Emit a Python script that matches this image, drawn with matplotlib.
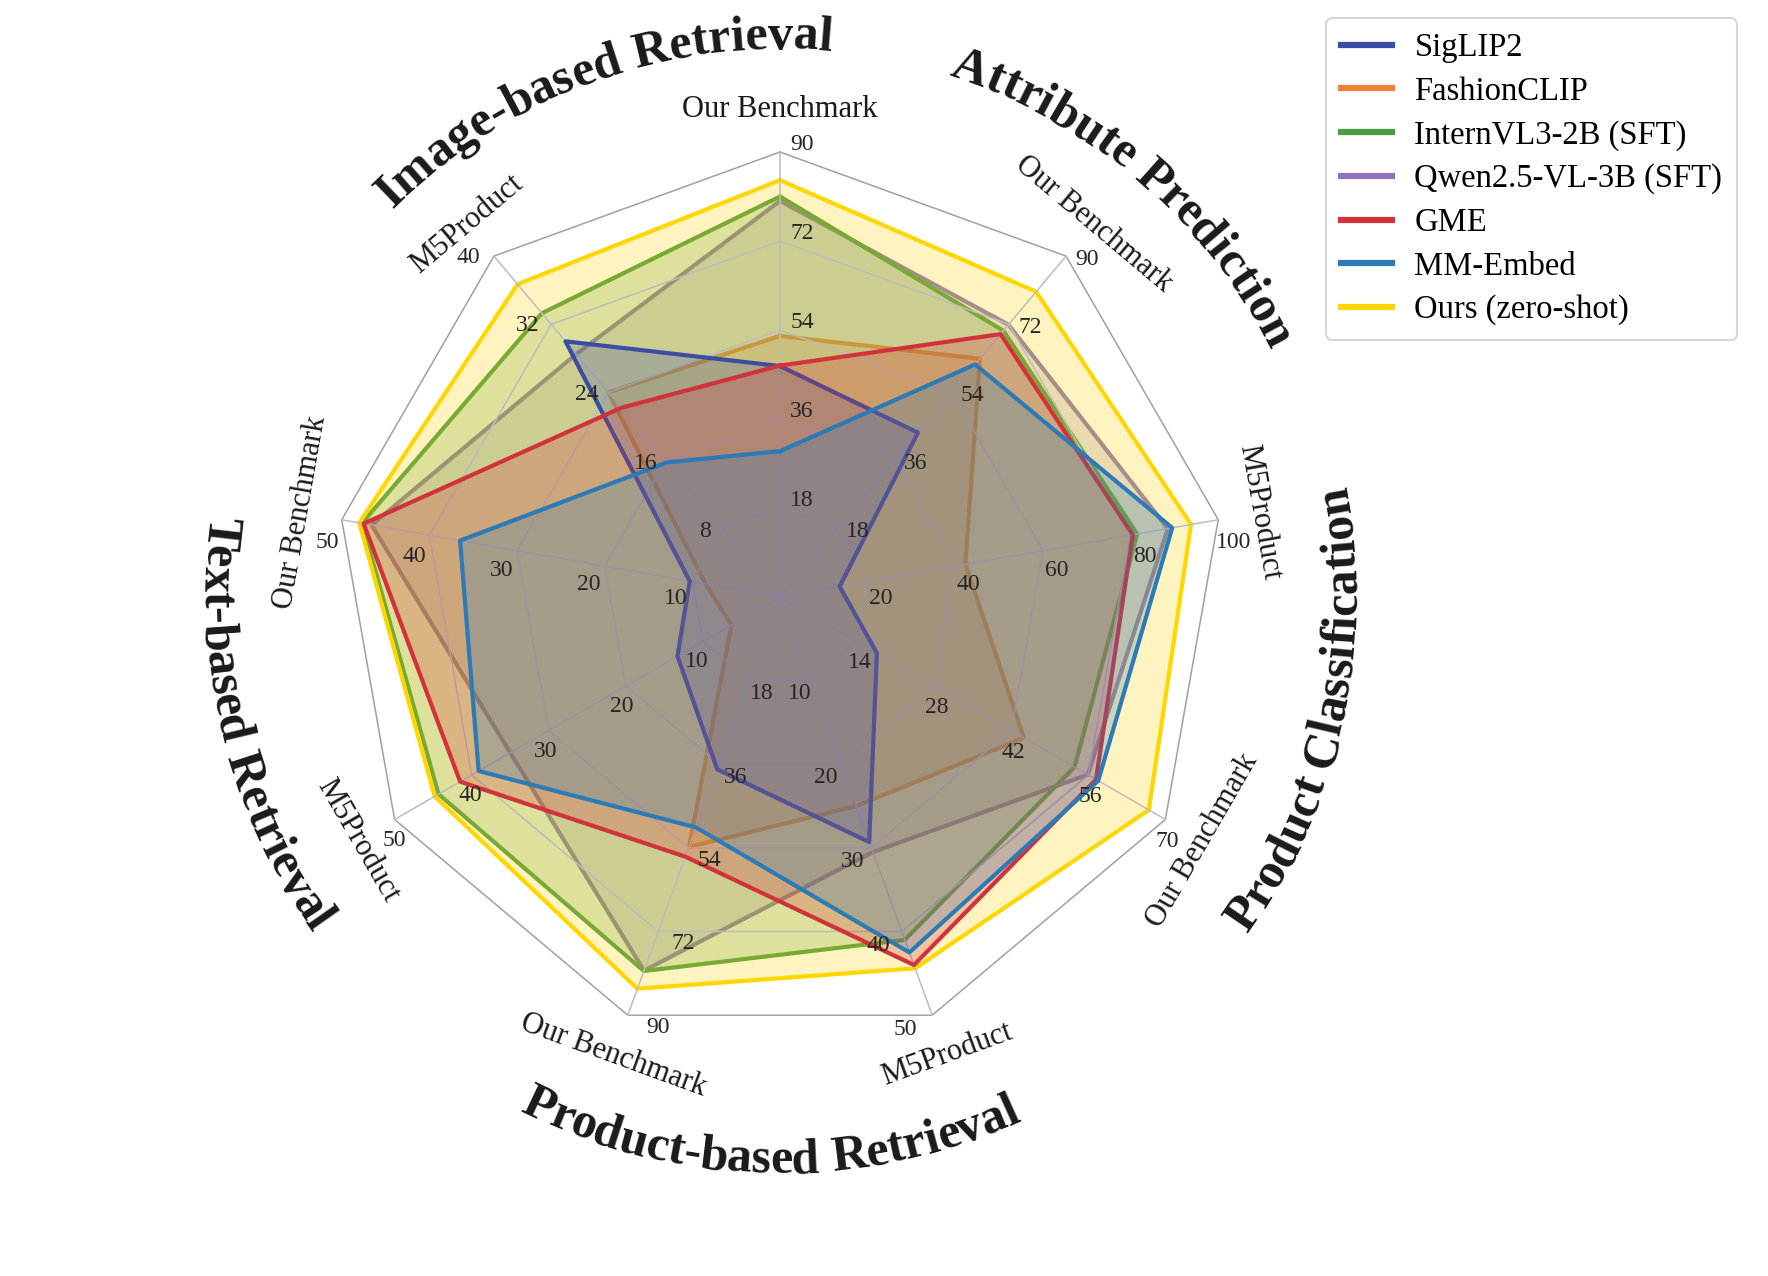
import numpy as np
import matplotlib
matplotlib.use("Agg")
import matplotlib.pyplot as plt
from matplotlib.font_manager import FontProperties

plt.rcParams['font.family'] = ['Liberation Serif', 'DejaVu Serif']

# radar axes, clockwise from the top
axis_names = ["Our Benchmark", "Our Benchmark", "M5Product", "Our Benchmark", "M5Product",
              "Our Benchmark", "M5Product", "Our Benchmark", "M5Product"]
axis_max = [90, 90, 100, 70, 50, 90, 50, 50, 40]

group_names = ["Image-based Retrieval", "Attribute Prediction", "Product Classification",
               "Product-based Retrieval", "Text-based Retrieval"]
# centre of each curved title, degrees counter-clockwise from the right
group_center = [109.8, 49.4, -12.3, -91.0, 193.8]

model_names = ["SigLIP2", "FashionCLIP", "InternVL3-2B (SFT)", "Qwen2.5-VL-3B (SFT)",
               "GME", "MM-Embed", "Ours (zero-shot)"]
siglip2     = [46.7, 43.4, 13.6, 17.6, 29.3, 37.1, 13.3, 10.3, 30.0]
fashionclip = [52.8, 62.9, 42.3, 44.3, 25.0, 53.8, 6.3, 8.5, 24.0]
internvl    = [81.0, 70.3, 81.5, 53.5, 41.0, 80.5, 44.3, 47.7, 33.3]
qwen        = [80.1, 71.9, 88.5, 55.9, 30.5, 80.4, 35.0, 46.6, 28.5]
gme         = [46.8, 69.4, 80.5, 57.4, 44.0, 55.9, 41.5, 47.5, 22.2]
mm_embed    = [29.5, 61.4, 89.5, 57.8, 42.5, 49.6, 39.1, 36.5, 15.8]
ours        = [84.3, 80.6, 93.8, 67.0, 44.4, 84.3, 44.8, 48.0, 36.7]
model_values = [siglip2, fashionclip, internvl, qwen, gme, mm_embed, ours]
colors = ['#3C4DA5', '#F08236', '#4C9B45', '#8D74B6', '#D1323B', '#2C7BB6', '#FFD700']

draw_order = [1, 3, 2, 6, 0, 4, 5]      # which polygon sits on top of which

# tick label nudges in pixels (x right, y down) at the inner and outer ring
tick_off_in = [(22, -8), (21, 3), (13, 17), (3, 21), (-11, 13), (12, 13), (-6, 20), (-17, 17), (-18, 3)]
tick_off_out = [(22, -7), (21, 3), (15, 23), (2, 22), (-27, 14), (30, 12), (0, 21), (-14, 23), (-26, 1)]

W, H = 1768, 1276
cx, cy, R = 780, 597, 445

fig = plt.figure(figsize=(W / 100, H / 100), dpi=100)
ax = fig.add_axes([(cx - R) / W, 1 - (cy + R) / H, 2 * R / W, 2 * R / H], projection='polar')
ax.set_theta_offset(np.pi / 2)
ax.set_theta_direction(-1)
ax.set_ylim(0, 1)
ax.set_xticks([])
ax.set_yticks([])
ax.spines['polar'].set_visible(False)
ax.grid(False)
ax.patch.set_visible(False)

N = len(axis_names)
theta = np.arange(N) * 2 * np.pi / N
theta_c = np.append(theta, theta[0])

# polygon grid (sits over the first polygons)
grid_z = 2 + 3.7
for k in range(1, 6):
    ax.plot(theta_c, [k / 5] * (N + 1), color='#a0a0a0' if k == 5 else '#bcbcbc',
            lw=1.1, zorder=grid_z, clip_on=False)
for t in theta:
    ax.plot([t, t], [0, 1], color='#bcbcbc', lw=1.1, zorder=grid_z, clip_on=False)

handles = {}
for z, m in enumerate(draw_order):
    r = np.array(model_values[m]) / np.array(axis_max)
    r = np.append(r, r[0])
    ax.fill(theta_c, r, color=colors[m], alpha=0.25, lw=0, zorder=2 + z)
    line, = ax.plot(theta_c, r, color=colors[m], lw=3.0, zorder=2.5 + z, clip_on=False)
    handles[m] = line

# tick labels on every axis
for i in range(N):
    for k in range(1, 6):
        f = (k - 1) / 4
        dx = tick_off_in[i][0] + f * (tick_off_out[i][0] - tick_off_in[i][0])
        dy = tick_off_in[i][1] + f * (tick_off_out[i][1] - tick_off_in[i][1])
        ax.annotate(f"{axis_max[i] * k // 5}", xy=(theta[i], k / 5),
                    xytext=(dx * 0.72, -dy * 0.72), textcoords='offset points',
                    ha='center', va='center', fontsize=17, color='#262626', zorder=30)

# axis names, tangent to the circle
for i in range(N):
    ang = 90 - np.degrees(theta[i])
    flip = np.sin(np.radians(ang)) < -1e-9
    rot = ang + 90 if flip else ang - 90
    ax.text(theta[i], 1.095, axis_names[i], rotation=rot, rotation_mode='anchor',
            ha='center', va='center', fontsize=22, color='#1a1a1a')

# curved group titles
renderer = fig.canvas.get_renderer()
fp = FontProperties(family='Liberation Serif', weight='bold', size=36)


def text_w(s):
    return renderer.get_text_width_height_descent(s, fp, ismath=False)[0]


def curved_title(text, center_deg, r_top, r_flip):
    total = text_w(text)
    flip = np.sin(np.radians(center_deg)) < 0
    r_base = r_flip if flip else r_top
    r_px = r_base * R
    for i, ch in enumerate(text):
        if ch == ' ':
            continue
        s = text_w(text[:i + 1]) - text_w(ch) / 2 - total / 2
        d = np.degrees(s / r_px)
        ang = center_deg + d if flip else center_deg - d
        rot = ang + 90 if flip else ang - 90
        ax.text(np.radians(90 - ang), r_base, ch, rotation=rot, rotation_mode='anchor',
                ha='center', va='baseline', fontproperties=fp, color='#1a1a1a')


for g, c in zip(group_names, group_center):
    curved_title(g, c, 1.232, 1.295)

leg = fig.legend([handles[m] for m in range(len(model_names))], model_names,
                 loc='upper right', bbox_to_anchor=(1737 / W, 1 - 18 / H), borderaxespad=0,
                 fontsize=23.5, handlelength=1.55, handletextpad=0.7,
                 labelspacing=0.4, borderpad=0.45, frameon=True, fancybox=True)
leg.get_frame().set_edgecolor('#cccccc')
leg.get_frame().set_linewidth(1.5)
for h in leg.get_lines():
    h.set_linewidth(4.5)

fig.savefig("out.png", dpi=100)
